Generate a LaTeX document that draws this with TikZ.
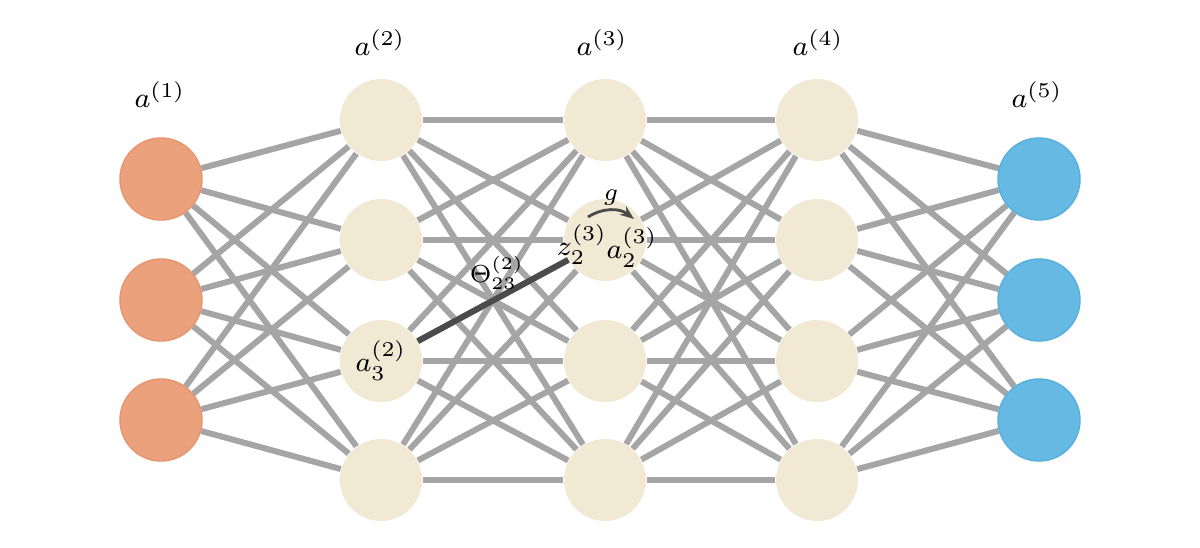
\documentclass[tikz,border=0pt]{standalone}
\usepackage{amsmath}
\usetikzlibrary{arrows.meta}
\pgfdeclarelayer{background}
\pgfsetlayers{background,main}
\definecolor{inputfill}{RGB}{235,161,124}
\definecolor{inputline}{RGB}{232,148,108}
\definecolor{hiddenfill}{RGB}{242,233,212}
\definecolor{outputfill}{RGB}{102,185,226}
\definecolor{outputline}{RGB}{88,174,220}
\definecolor{edgegray}{RGB}{165,165,165}
\definecolor{weightgray}{RGB}{75,75,75}
\tikzset{
    neuron/.style={circle, minimum size=0.82cm, inner sep=0pt, font=\footnotesize},
    innode/.style={neuron, fill=inputfill, draw=inputline, line width=0.4pt},
    hidnode/.style={neuron, fill=hiddenfill},
    outnode/.style={neuron, fill=outputfill, draw=outputline, line width=0.4pt},
    layerlabel/.style={font=\footnotesize},
    synapse/.style={edgegray, line width=1.7pt},
}

\begin{document}
\begin{tikzpicture}[x=0.01cm, y=-0.01cm]
    \useasboundingbox (0,0) rectangle (1200,547);
    % input layer
    \node[innode] (l1n1) at (161,179) {};
    \node[innode] (l1n2) at (161,300) {};
    \node[innode] (l1n3) at (161,420) {};
    % hidden layers
    \node[hidnode] (l2n1) at (381,120) {};
    \node[hidnode] (l2n2) at (381,240) {};
    \node[hidnode] (l2n3) at (381,361) {$a_3^{(2)}$};
    \node[hidnode] (l2n4) at (381,480) {};
    \node[hidnode] (l3n1) at (605,120) {};
    \node[hidnode] (l3n2) at (605,240) {};
    \node[hidnode] (l3n3) at (605,361) {};
    \node[hidnode] (l3n4) at (605,480) {};
    \node[hidnode] (l4n1) at (817,120) {};
    \node[hidnode] (l4n2) at (817,240) {};
    \node[hidnode] (l4n3) at (817,361) {};
    \node[hidnode] (l4n4) at (817,480) {};
    % output layer
    \node[outnode] (l5n1) at (1039,179) {};
    \node[outnode] (l5n2) at (1039,300) {};
    \node[outnode] (l5n3) at (1039,420) {};
    % layer labels
    \node[layerlabel] (lab1) at (160,95) {$a^{(1)}$};
    \node[layerlabel] (lab2) at (380,43) {$a^{(2)}$};
    \node[layerlabel] (lab3) at (602,43) {$a^{(3)}$};
    \node[layerlabel] (lab4) at (818,43) {$a^{(4)}$};
    \node[layerlabel] (lab5) at (1037,95) {$a^{(5)}$};
    % connections
    \begin{pgfonlayer}{background}
        \foreach \i in {1,2,3}
            \foreach \j in {1,2,3,4}
                \draw[synapse] (l1n\i) -- (l2n\j);
        \foreach \i in {1,2,3,4}
            \foreach \j in {1,2,3,4} {
                \draw[synapse] (l2n\i) -- (l3n\j);
                \draw[synapse] (l3n\i) -- (l4n\j);
            }
        \foreach \i in {1,2,3,4}
            \foreach \j in {1,2,3}
                \draw[synapse] (l4n\i) -- (l5n\j);
        \draw[weightgray, line width=1.7pt] (l2n3) -- (l3n2);
    \end{pgfonlayer}
    \node[font=\scriptsize] (theta) at (497,273) {$\Theta_{23}^{(2)}$};
    % inside the neuron
    \node[font=\footnotesize, inner sep=0pt] (zin) at (582,245) {$z_2^{(3)}$};
    \node[font=\footnotesize, inner sep=0pt] (aout) at (632,248) {$a_2^{(3)}$};
    \node[font=\scriptsize] (gfun) at (611,198) {$g$};
    \coordinate (gfrom) at (588,217);
    \coordinate (gto) at (634,219);
    \draw[weightgray, line width=0.8pt, -{Stealth[length=4pt]}] (gfrom) to[bend left=35] (gto);
\end{tikzpicture}
\end{document}
